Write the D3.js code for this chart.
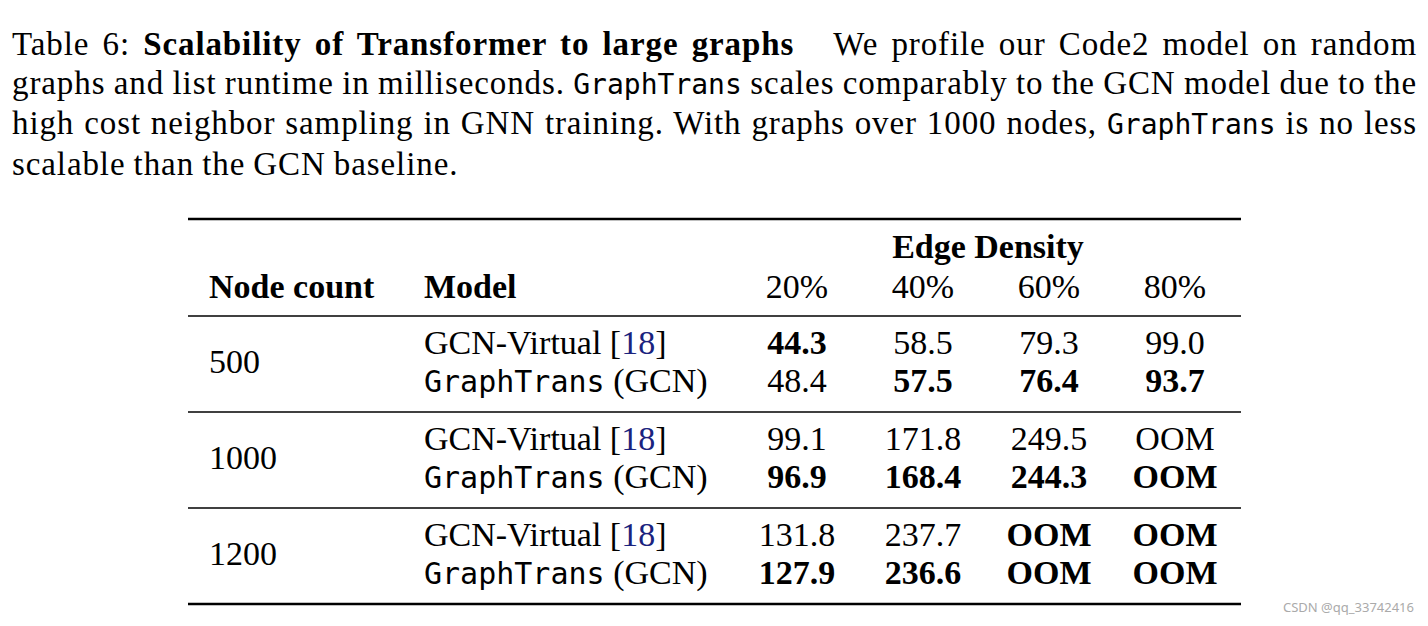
<!DOCTYPE html>
<html>
<head>
  <script src="https://d3js.org/d3.v7.min.js"></script>
  <style>
    body { margin: 0; background: #fff; width: 1428px; height: 626px; overflow: hidden; position: relative; }
    #caption {
      position: absolute; left: 12px; top: 25px; width: 1405px;
      font-family: "Liberation Serif", "Times New Roman", serif; font-size: 33px; line-height: 38.7px;
      letter-spacing: 0.9px; word-spacing: -1px;
      text-align: justify; color: #000;
    }
    .mono { font-family: "DejaVu Sans Mono", "Liberation Mono", monospace; font-size: 28px; letter-spacing: 0; }
    svg { position: absolute; left: 0; top: 0; }
  </style>
</head>
<body>
  <div id="caption">Table 6: <b>Scalability of Transformer to large graphs</b>&nbsp;&nbsp; We profile our Code2 model on random graphs and list runtime in milliseconds. <span class="mono">GraphTrans</span> scales comparably to the GCN model due to the high cost neighbor sampling in GNN training. With graphs over 1000 nodes, <span class="mono">GraphTrans</span> is no less scalable than the GCN baseline.</div>
  <svg id="table" width="1428" height="626"></svg>

  <script>
    // table data
    var densities = ["20%", "40%", "60%", "80%"];
    var nodeCounts = ["500", "1000", "1200"];
    var gcnValues = [["44.3", "58.5", "79.3", "99.0"], ["99.1", "171.8", "249.5", "OOM"], ["131.8", "237.7", "OOM", "OOM"]];
    var transValues = [["48.4", "57.5", "76.4", "93.7"], ["96.9", "168.4", "244.3", "OOM"], ["127.9", "236.6", "OOM", "OOM"]];
    // bold flags (best per column)
    var gcnBold = [[1, 0, 0, 0], [0, 0, 0, 0], [0, 0, 1, 1]];
    var transBold = [[0, 1, 1, 1], [1, 1, 1, 1], [1, 1, 1, 1]];

    var svg = d3.select("#table");
    var serif = "'Liberation Serif', 'Times New Roman', serif";
    var x = d3.scalePoint().domain(densities).range([797, 1175]);
    var groupY = d3.scaleBand().domain(nodeCounts).range([316, 604]);

    function rule(y, w) {
      svg.append("line").attr("x1", 188).attr("x2", 1241).attr("y1", y).attr("y2", y)
        .attr("stroke", "#000").attr("stroke-width", w);
    }
    function txt(xp, yp, s, opts) {
      opts = opts || {};
      return svg.append("text").attr("x", xp).attr("y", yp).text(s)
        .attr("font-family", opts.family || serif).attr("font-size", opts.size || 34)
        .attr("font-weight", opts.bold ? "bold" : "normal")
        .attr("text-anchor", opts.anchor || "start").attr("fill", "#000");
    }

    rule(219, 2.5);
    txt(988, 258, "Edge Density", { bold: true, anchor: "middle" });
    txt(209, 298, "Node count", { bold: true });
    txt(424, 298, "Model", { bold: true });
    densities.forEach(function (d) { txt(x(d), 298, d, { anchor: "middle" }); });
    rule(316, 1.5);

    nodeCounts.forEach(function (n, i) {
      var y0 = groupY(n);
      var y1 = y0 + 38, y2 = y0 + 76;
      txt(209, y0 + 57, n);
      var t = svg.append("text").attr("x", 424).attr("y", y1).attr("font-family", serif).attr("font-size", 34);
      t.append("tspan").text("GCN-Virtual [");
      t.append("tspan").attr("fill", "#1a237e").text("18");
      t.append("tspan").text("]");
      var t2 = svg.append("text").attr("x", 424).attr("y", y2).attr("font-size", 30);
      t2.append("tspan").attr("font-family", "'DejaVu Sans Mono', 'Liberation Mono', monospace").text("GraphTrans");
      t2.append("tspan").attr("font-family", serif).attr("font-size", 34).text(" (GCN)");
      densities.forEach(function (d, j) {
        txt(x(d), y1, gcnValues[i][j], { anchor: "middle", bold: gcnBold[i][j] });
        txt(x(d), y2, transValues[i][j], { anchor: "middle", bold: transBold[i][j] });
      });
      if (i < nodeCounts.length - 1) rule(y0 + groupY.bandwidth(), 1.5);
    });
    rule(604, 2.5);

    svg.append("text").attr("x", 1414).attr("y", 612).attr("text-anchor", "end")
      .attr("font-family", "'Noto Sans', sans-serif").attr("font-size", 13).attr("fill", "#aaa")
      .text("CSDN @qq_33742416");
  </script>
</body>
</html>
